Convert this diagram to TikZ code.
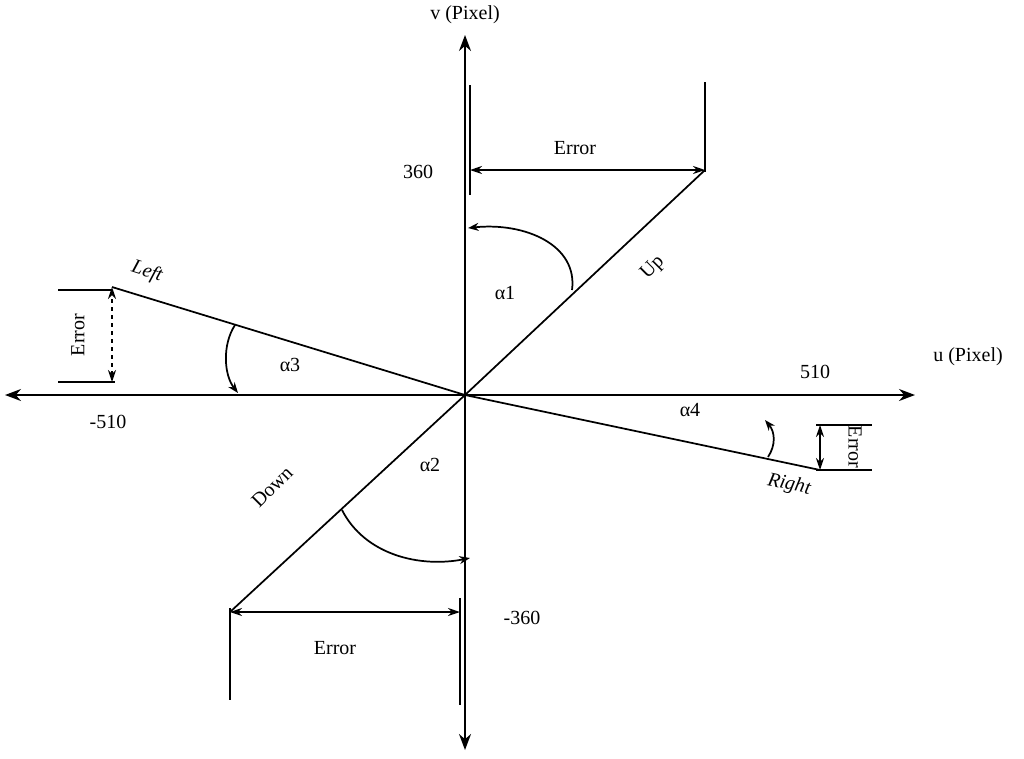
\documentclass[tikz,border=0pt]{standalone}
\usepackage{fontspec}
\setmainfont{Liberation Serif}
\usetikzlibrary{arrows.meta}
\begin{document}
\begin{tikzpicture}[x=0.75pt,y=-0.75pt,line width=1.3pt,
  ax/.style={{Stealth[length=12pt,width=9pt]}-{Stealth[length=12pt,width=9pt]}},
  dim/.style={{Stealth[length=9pt,width=6pt]}-{Stealth[length=9pt,width=6pt]}},
  ang/.style={-{Stealth[length=8pt,width=6pt]}},
  lbl/.style={font=\fontsize{15}{17}\selectfont},
  thinl/.style={line width=0.8pt}]
\useasboundingbox (0,0) rectangle (1024,758);
\coordinate (O) at (465,395);
\coordinate (xl) at (5,395); \coordinate (xr) at (915,395);
\coordinate (yt) at (465,35); \coordinate (yb) at (465,750);
\draw[ax] (xl) -- (xr);
\draw[ax] (yb) -- (yt);
\node[lbl] (u) at (968,357) {u (Pixel)};
\node[lbl] (v) at (465,15) {v (Pixel)};
\node[lbl] (p510) at (815,372) {510};
\node[lbl] (m510) at (108,422) {-510};
\node[lbl] (p360) at (418,172) {360};
\node[lbl] (m360) at (522,618) {-360};
% Up
\coordinate (U) at (705,170);
\draw (O) -- (U);
\draw[thinl] (705,82) -- (705,172);
\draw[thinl] (470,85) -- (470,195);
\coordinate (U0) at (470,170);
\draw[dim] (U0) -- (U);
\node[lbl] (e1) at (575,148) {Error};
\draw[ang] (572,290) .. controls (578,245) and (525,222) .. (468,228);
\node[lbl] (a1) at (505,293) {α1};
\node[lbl,rotate=45] (up) at (653,268) {Up};
% Down
\coordinate (D) at (230,612);
\draw (O) -- (D);
\draw[thinl] (230,608) -- (230,700);
\draw[thinl] (460,598) -- (460,705);
\coordinate (D0) at (460,612);
\draw[dim] (D) -- (D0);
\node[lbl] (e2) at (335,648) {Error};
\draw[ang] (342,510) .. controls (365,555) and (420,568) .. (470,558);
\node[lbl] (a2) at (430,465) {α2};
\node[lbl,rotate=45] (down) at (272,487) {Down};
% Left
\coordinate (L) at (112,287);
\draw (O) -- (L);
\draw[thinl] (58,290) -- (112,290);
\draw[thinl] (58,382) -- (115,382);
\coordinate (L0) at (112,382);
\draw[dim,dashed] (L0) -- (L);
\node[lbl,rotate=90] (e3) at (78,335) {Error};
\draw[ang] (235,325) .. controls (222,345) and (224,375) .. (238,393);
\node[lbl] (a3) at (290,365) {α3};
\node[lbl,rotate=-18,font=\fontsize{15}{17}\selectfont\itshape] (left) at (147,272) {Left};
% Right
\coordinate (R) at (820,470);
\draw (O) -- (R);
\draw[thinl] (816,425) -- (872,425);
\draw[thinl] (816,470) -- (872,470);
\coordinate (R0) at (820,425);
\draw[dim] (R0) -- (R);
\node[lbl,rotate=-90] (e4) at (855,447) {Error};
\draw[ang] (768,457) .. controls (776,445) and (775,432) .. (765,420);
\node[lbl] (a4) at (690,410) {α4};
\node[lbl,rotate=-12,font=\fontsize{15}{17}\selectfont\itshape] (right) at (789,485) {Right};
\end{tikzpicture}
\end{document}
